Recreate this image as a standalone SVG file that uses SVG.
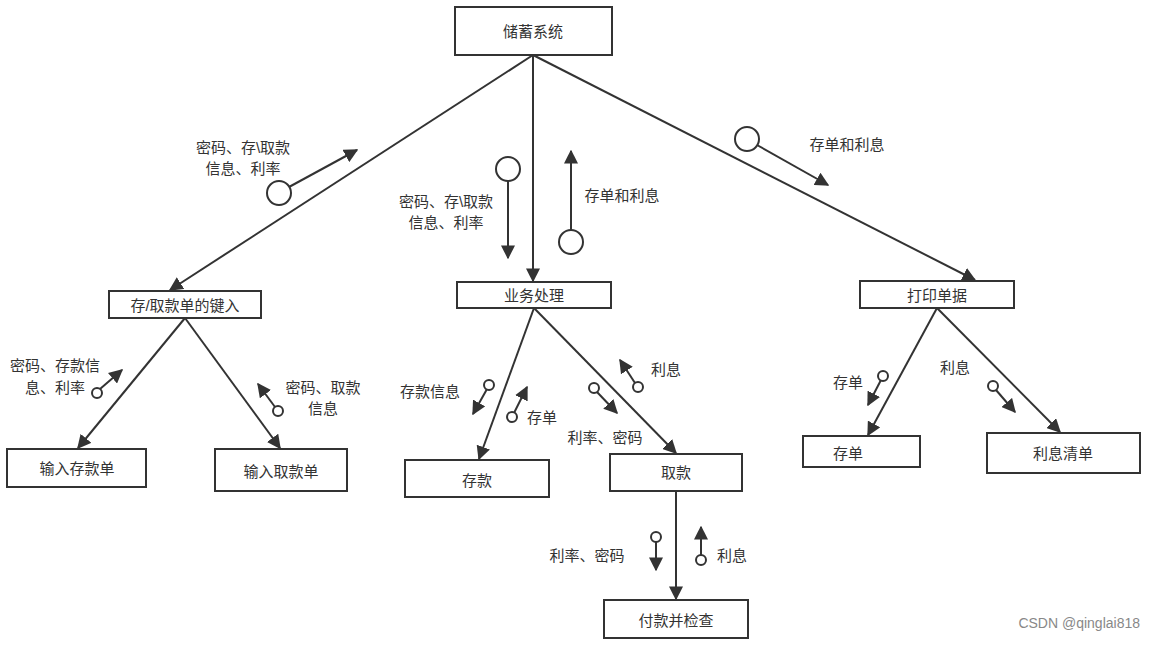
<svg xmlns="http://www.w3.org/2000/svg" width="1156" height="646" viewBox="0 0 1156 646">
<style>
.n{fill:#fff;stroke:#333;stroke-width:2}
.t{font-family:"Liberation Sans","Noto Sans CJK SC",sans-serif;font-size:15px;fill:#333;text-anchor:middle;dominant-baseline:central}
.c{stroke:#333;stroke-width:2;fill:none}
.o{fill:#fff;stroke:#333;stroke-width:2}
</style>
<defs>
<marker id="a" viewBox="0 0 10 10" refX="9" refY="5" markerWidth="7" markerHeight="7" markerUnits="userSpaceOnUse" orient="auto"><path d="M0,0L10,5L0,10z" fill="#333"/></marker>
<marker id="b" viewBox="0 0 10 10" refX="9" refY="5" markerWidth="14" markerHeight="14" markerUnits="userSpaceOnUse" orient="auto"><path d="M0,0L10,5L0,10z" fill="#333"/></marker>
</defs>
<rect width="1156" height="646" fill="#fff"/>
<g id="connectors">
<line class="c" x1="533" y1="55" x2="170" y2="290" marker-end="url(#b)"/>
<line class="c" x1="533" y1="55" x2="533" y2="281" marker-end="url(#b)"/>
<line class="c" x1="533" y1="55" x2="975" y2="280" marker-end="url(#b)"/>
<line class="c" x1="185" y1="318" x2="78" y2="448" marker-end="url(#b)"/>
<line class="c" x1="185" y1="318" x2="280" y2="448" marker-end="url(#b)"/>
<line class="c" x1="534" y1="308" x2="479" y2="459" marker-end="url(#b)"/>
<line class="c" x1="534" y1="308" x2="676" y2="453" marker-end="url(#b)"/>
<line class="c" x1="676" y1="491" x2="676" y2="599" marker-end="url(#b)"/>
<line class="c" x1="937" y1="308" x2="868" y2="435" marker-end="url(#b)"/>
<line class="c" x1="937" y1="308" x2="1060" y2="432" marker-end="url(#b)"/>
</g>
<g id="flows">
<line class="c" x1="289" y1="187" x2="357" y2="150" marker-end="url(#b)"/><circle class="o" cx="279" cy="193" r="12"/>
<line class="c" x1="508" y1="181" x2="508" y2="258" marker-end="url(#b)"/><circle class="o" cx="508" cy="169" r="12"/>
<line class="c" x1="571" y1="230" x2="571" y2="151" marker-end="url(#b)"/><circle class="o" cx="571" cy="242" r="12"/>
<line class="c" x1="757" y1="145" x2="828" y2="185" marker-end="url(#b)"/><circle class="o" cx="747" cy="139" r="12"/>
<line class="c" x1="100" y1="389" x2="122" y2="370" marker-end="url(#b)"/><circle class="o" cx="97" cy="393" r="5"/>
<line class="c" x1="275" y1="407" x2="258" y2="384" marker-end="url(#b)"/><circle class="o" cx="278" cy="411" r="5"/>
<line class="c" x1="487" y1="389" x2="473" y2="414" marker-end="url(#b)"/><circle class="o" cx="489" cy="385" r="5"/>
<line class="c" x1="514" y1="413" x2="527" y2="387" marker-end="url(#b)"/><circle class="o" cx="512" cy="417" r="5"/>
<line class="c" x1="597" y1="392" x2="617" y2="413" marker-end="url(#b)"/><circle class="o" cx="594" cy="388" r="5"/>
<line class="c" x1="635" y1="383" x2="620" y2="360" marker-end="url(#b)"/><circle class="o" cx="638" cy="387" r="5"/>
<line class="c" x1="656" y1="542" x2="656" y2="570" marker-end="url(#b)"/><circle class="o" cx="656" cy="537" r="5"/>
<line class="c" x1="701" y1="555" x2="701" y2="527" marker-end="url(#b)"/><circle class="o" cx="701" cy="560" r="5"/>
<line class="c" x1="881" y1="380" x2="868" y2="405" marker-end="url(#b)"/><circle class="o" cx="883" cy="376" r="5"/>
<line class="c" x1="996" y1="390" x2="1015" y2="412" marker-end="url(#b)"/><circle class="o" cx="993" cy="386" r="5"/>
</g>
<g id="labels">
<text class="t" x="243" y="147">密码、存\取款</text><text class="t" x="243" y="168">信息、利率</text>
<text class="t" x="446" y="201">密码、存\取款</text><text class="t" x="446" y="222">信息、利率</text>
<text class="t" x="622" y="195">存单和利息</text>
<text class="t" x="847" y="144">存单和利息</text>
<text class="t" x="55" y="365">密码、存款信</text><text class="t" x="55" y="387">息、利率</text>
<text class="t" x="323" y="387">密码、取款</text><text class="t" x="323" y="408">信息</text>
<text class="t" x="430" y="391">存款信息</text>
<text class="t" x="542" y="417">存单</text>
<text class="t" x="605" y="437">利率、密码</text>
<text class="t" x="666" y="369">利息</text>
<text class="t" x="587" y="555">利率、密码</text>
<text class="t" x="732" y="555">利息</text>
<text class="t" x="848" y="382">存单</text>
<text class="t" x="955" y="367">利息</text>
</g>
<g id="n1"><rect class="n" x="455" y="7" width="157" height="48"/><text class="t" x="533" y="31">储蓄系统</text></g>
<g id="n2"><rect class="n" x="109" y="291" width="152" height="27"/><text class="t" x="185" y="305">存/取款单的键入</text></g>
<g id="n3"><rect class="n" x="457" y="282" width="154" height="26"/><text class="t" x="534" y="295">业务处理</text></g>
<g id="n4"><rect class="n" x="860" y="281" width="154" height="27"/><text class="t" x="937" y="295">打印单据</text></g>
<g id="n5"><rect class="n" x="7" y="449" width="139" height="38"/><text class="t" x="77" y="468">输入存款单</text></g>
<g id="n6"><rect class="n" x="215" y="449" width="132" height="42"/><text class="t" x="281" y="471">输入取款单</text></g>
<g id="n7"><rect class="n" x="405" y="460" width="144" height="37"/><text class="t" x="477" y="480">存款</text></g>
<g id="n8"><rect class="n" x="610" y="454" width="132" height="37"/><text class="t" x="676" y="472">取款</text></g>
<g id="n9"><rect class="n" x="604" y="600" width="144" height="38"/><text class="t" x="676" y="620">付款并检查</text></g>
<g id="n10"><rect class="n" x="803" y="436" width="117" height="31"/><text class="t" x="848" y="453">存单</text></g>
<g id="n11"><rect class="n" x="987" y="433" width="153" height="40"/><text class="t" x="1063" y="453">利息清单</text></g>
<text x="1140" y="628" style="font-family:'Liberation Sans',sans-serif;font-size:14px;fill:#888;text-anchor:end">CSDN @qinglai818</text>
</svg>
